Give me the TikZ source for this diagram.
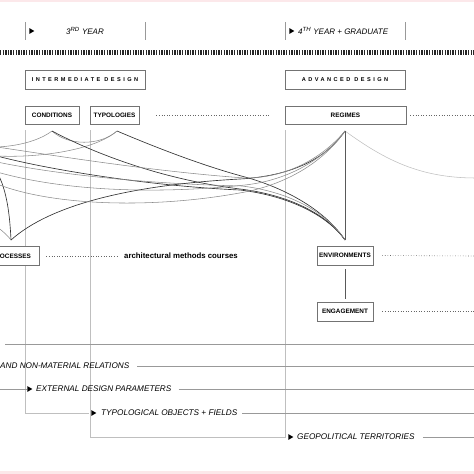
\documentclass[tikz,border=0pt]{standalone}
\usepackage{fontspec}
\setmainfont{Liberation Sans}
\newfontfamily\spaced[LetterSpace=44]{Liberation Sans}
\usetikzlibrary{shapes.geometric}
\definecolor{edgepink}{RGB}{252,232,234}

\begin{document}
\begin{tikzpicture}[x=1pt,y=-1pt,
    box/.style={draw=black!55, fill=white, line width=0.7pt, inner sep=0pt,
      font=\fontsize{6.4}{7}\selectfont\bfseries},
    stage/.style={box, font=\fontsize{5.6}{6}\selectfont\spaced\bfseries},
    leader/.style={dotted, black!60, line width=0.6pt},
    guide/.style={black!40, line width=0.6pt},
    tick/.style={black!40, line width=0.7pt},
    ruler/.style={black!85, line width=5pt, dash pattern=on 1.3pt off 1.3pt},
    tri/.style={isosceles triangle, isosceles triangle apex angle=60,
      fill=black, inner sep=0pt, minimum size=5pt},
    yr/.style={font=\fontsize{8}{9}\selectfont\itshape, inner sep=0pt},
    field/.style={font=\fontsize{8.2}{9}\selectfont\itshape, anchor=west, inner sep=0pt},
    arc/.style={black!45, line width=0.55pt},
    darkarc/.style={black!80, line width=0.65pt}]
  \useasboundingbox (0,0) rectangle (474,474);
  \clip (0,0) rectangle (474,474);
  \fill[edgepink] (0,0) rectangle (474,2);
  \fill[edgepink] (0,471) rectangle (474,474);

  % years
  \draw[tick] (25,22) -- (25,40);
  \draw[tick] (145,22) -- (145,40);
  \draw[tick] (285,22) -- (285,40);
  \draw[tick] (405,22) -- (405,40);
  \node[tri] (t3) at (31,31) {};
  \node[yr] (y3) at (85,31) {3\textsuperscript{RD} YEAR};
  \node[tri] (t4) at (291,31) {};
  \node[yr, anchor=west] (y4) at (298,31) {4\textsuperscript{TH} YEAR + GRADUATE};
  \draw[ruler] (0,52.5) -- (474,52.5);

  % stages
  \node[stage, minimum width=120pt, minimum height=19pt] (inter) at (85,80) {INTERMEDIATE DESIGN};
  \node[stage, minimum width=120pt, minimum height=19pt] (adv) at (345,80) {ADVANCED DESIGN};

  % guides behind the boxes
  \draw[guide, black!25] (25,130) |- (89,413);
  \draw[guide, black!25] (90,130) |- (286,437);
  \draw[guide, black!25] (285,130) -- (285,437);
  \draw[guide] (5,344) -- (474,344);

  % curves
  \coordinate (cc) at (52,131);
  \coordinate (tc) at (117,131);
  \coordinate (rt) at (345,131);
  \coordinate (rb) at (345,240);
  \coordinate (pc) at (11,240);
  \coordinate (la) at (-3,147);
  \coordinate (lb) at (-3,156);
  \coordinate (lg) at (-3,162);
  \coordinate (lc) at (-3,172);
  \coordinate (ld) at (-3,184);
  \coordinate (le) at (-3,227);
  \coordinate (lf) at (-1,176);
  \coordinate (rr) at (476,178);

  \draw[arc] (la) .. controls (20,146) and (40,140) .. (cc);
  \draw[arc] (cc) .. controls (68,146) and (100,146) .. (tc);
  \draw[arc] (lb) .. controls (40,158) and (95,150) .. (tc);
  \draw[darkarc] (lf) .. controls (8,195) and (10,220) .. (pc);
  \draw[arc] (le) .. controls (4,232) and (8,236) .. (pc);

  \draw[darkarc] (cc) .. controls (80,146) and (150,178) .. (240,189)
    .. controls (290,195) and (328,215) .. (rb);
  \draw[darkarc] (tc) .. controls (150,145) and (200,165) .. (245,177)
    .. controls (285,188) and (325,210) .. (rb);
  \draw[darkarc] (lb) .. controls (50,170) and (150,186) .. (240,190)
    .. controls (290,196) and (328,216) .. (rb);
  \draw[arc] (lg) .. controls (60,175) and (150,184) .. (242,186)
    .. controls (290,192) and (326,212) .. (rb);

  \draw[darkarc] (pc) .. controls (50,205) and (130,185) .. (240,179)
    .. controls (290,176) and (325,160) .. (rt);
  \draw[arc] (ld) .. controls (50,205) and (150,210) .. (245,192)
    .. controls (290,183) and (325,160) .. (rt);
  \draw[arc] (lc) .. controls (60,190) and (150,195) .. (245,185)
    .. controls (290,180) and (325,158) .. (rt);
  \draw[arc] (la) .. controls (70,158) and (160,172) .. (245,178)
    .. controls (290,178) and (325,155) .. (rt);
  \draw[arc, black!25] (rt) .. controls (385,160) and (420,178) .. (rr);
  \draw[black!65, line width=0.9pt] (rt) -- (rb);

  % modules
  \node[box, minimum width=54pt, minimum height=18pt] (cond) at (52,115) {CONDITIONS};
  \node[box, minimum width=49pt, minimum height=18pt] (typ) at (114.5,115) {TYPOLOGIES};
  \node[box, minimum width=121pt, minimum height=18pt] (reg) at (345.5,115) {REGIMES};
  \node[box, minimum width=56pt, minimum height=19pt] (proc) at (11,256) {\phantom{PR}OCESSES};
  \node[box, minimum width=56pt, minimum height=19pt] (env) at (345,255.5) {ENVIRONMENTS};
  \node[box, minimum width=56pt, minimum height=19pt] (eng) at (345,311.5) {ENGAGEMENT};
  \node[anchor=west, inner sep=0pt, font=\fontsize{7.8}{9}\selectfont\bfseries]
    (meth) at (124,256) {architectural methods courses};

  \draw[leader] ([xshift=17pt]typ.east) -- ([xshift=-14pt]reg.west);
  \draw[leader] ([xshift=4pt]reg.east) -- (474,115);
  \draw[leader] ([xshift=7pt]proc.east) -- ([xshift=-6pt]meth.west);
  \draw[leader] ([xshift=9pt]env.east) -- (474,256);
  \draw[leader] ([xshift=9pt]eng.east) -- (474,311.5);
  \draw[black!65, line width=0.8pt] ([yshift=-4pt]env.south) -- ([yshift=3pt]eng.north);

  % fields
  \node[field] (rel) at (0,366) {AND NON-MATERIAL RELATIONS};
  \draw[guide] ([xshift=8pt]rel.east) -- (474,366);
  \node[tri] (t1) at (29,389) {};
  \node[field] (ext) at (36,389) {EXTERNAL DESIGN PARAMETERS};
  \draw[guide] (0,389) -- (t1.west);
  \draw[guide] ([xshift=7pt]ext.east) -- (474,389);
  \node[tri] (t2) at (93,413) {};
  \node[field] (obj) at (101,413) {TYPOLOGICAL OBJECTS + FIELDS};
  \draw[guide] ([xshift=5pt]obj.east) -- (474,413);
  \node[tri] (t5) at (290,437) {};
  \node[field] (geo) at (297,437) {GEOPOLITICAL TERRITORIES};
  \draw[guide] ([xshift=8pt]geo.east) -- (474,437);
\end{tikzpicture}
\end{document}
